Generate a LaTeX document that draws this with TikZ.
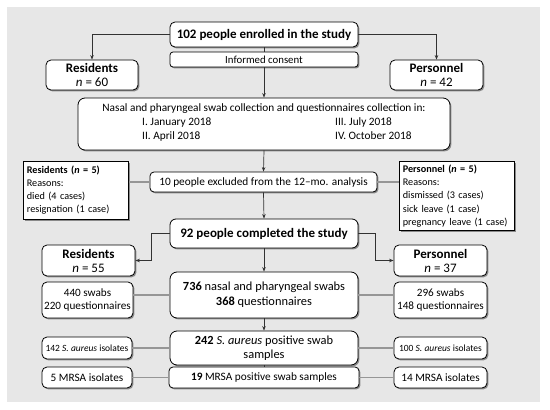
\documentclass[tikz,border=0pt]{standalone}
\usepackage{fontspec}
\setmainfont{Carlito}
\usetikzlibrary{arrows.meta,shadows}
\definecolor{bgc}{RGB}{231,231,231}
\definecolor{sidel}{RGB}{150,150,150}
\definecolor{mainl}{RGB}{50,50,50}
\tikzset{
  box/.style={draw=black, line width=0.8pt, fill=white, rounded corners=5pt, inner sep=1pt, align=center,
    drop shadow={shadow xshift=1.4pt, shadow yshift=-1.4pt, fill=black!55, opacity=0.8}},
  sqbox/.style={draw=black, line width=0.7pt, fill=white, inner xsep=3.5pt, inner ysep=2pt, align=left,
    drop shadow={shadow xshift=1.4pt, shadow yshift=-1.4pt, fill=black!55, opacity=0.8}},
  txt/.style={inner sep=0pt, font=\fontsize{11.3}{12}\selectfont},
  arr/.style={draw=mainl, line width=0.7pt, -{Stealth[length=4.5pt,width=3.5pt]}},
  ln/.style={draw=mainl, line width=0.7pt},
  side/.style={draw=sidel, line width=1.5pt},
}
\begin{document}
\begin{tikzpicture}[x=1pt,y=-1pt]
\useasboundingbox (0,0) rectangle (550,410);
\fill[bgc] (7,7) rectangle (540,402);

% top row
\node[box, minimum width=188pt, minimum height=25pt, font=\fontsize{13}{14}\selectfont\bfseries] (top) at (264,34.5) {102 people enrolled in the study};
\node[box, rounded corners=3pt, minimum width=188pt, minimum height=15pt, font=\fontsize{10.8}{12}\selectfont] (consent) at (264,59.5) {Informed consent};
\node[box, minimum width=92pt, minimum height=30pt, font=\fontsize{13}{14}\selectfont] (res1) at (92,75) {\textbf{Residents}\\\textit{n} = 60};
\node[box, minimum width=93pt, minimum height=30pt, font=\fontsize{13}{14}\selectfont] (per1) at (436.5,75) {\textbf{Personnel}\\\textit{n} = 42};

% nasal box
\node[box, rounded corners=7pt, minimum width=372pt, minimum height=52pt] (nasal) at (264,124) {};
\node[txt] (nasalT) at (264,109) {Nasal and pharyngeal swab collection and questionnaires collection in:};
\node[txt, anchor=west] (d1) at (142,122.5) {I. January 2018};
\node[txt, anchor=west] (d2) at (142,136) {II. April 2018};
\node[txt, anchor=west] (d3) at (335,122.5) {III. July 2018};
\node[txt, anchor=west] (d4) at (335,136) {IV. October 2018};

% exclusion
\node[box, rounded corners=4pt, minimum width=227pt, minimum height=20pt, font=\fontsize{11.3}{12}\selectfont] (excl) at (263.5,182) {10 people excluded from the 12--mo. analysis};
\node[sqbox, anchor=north west, minimum width=105pt, minimum height=58pt, text width=98pt, font=\fontsize{10.2}{13}\selectfont] (resx) at (23,161) {\textbf{Residents (\textit{n} = 5)}\\Reasons:\\died (4 cases)\\resignation (1 case)};
\node[sqbox, anchor=north west, minimum width=115pt, minimum height=69pt, text width=108pt, font=\fontsize{10.2}{13.3}\selectfont] (perx) at (399,161) {\textbf{Personnel (\textit{n} = 5)}\\Reasons:\\dismissed (3 cases)\\sick leave (1 case)\\pregnancy leave (1~case)};

% completed
\node[box, rounded corners=6pt, minimum width=188pt, minimum height=29pt, font=\fontsize{13}{14}\selectfont\bfseries] (comp) at (264,233.5) {92 people completed the study};
\node[box, minimum width=93pt, minimum height=31pt, font=\fontsize{13}{14}\selectfont] (res2) at (88.5,260.5) {\textbf{Residents}\\\textit{n} = 55};
\node[box, minimum width=93pt, minimum height=31pt, font=\fontsize{13}{14}\selectfont] (per2) at (440.5,260.5) {\textbf{Personnel}\\\textit{n} = 37};

% swabs
\node[box, rounded corners=7pt, minimum width=188pt, minimum height=46pt, font=\fontsize{12.4}{15}\selectfont] (swabs) at (264,295) {\textbf{736} nasal and pharyngeal swabs\\\textbf{368} questionnaires};
\node[box, minimum width=91pt, minimum height=36pt, inner sep=0.5pt, font=\fontsize{11.2}{13.5}\selectfont] (rswab) at (87.5,300) {440 swabs\\220 questionnaires};
\node[box, minimum width=93pt, minimum height=36pt, inner sep=0.5pt, font=\fontsize{11.2}{13.5}\selectfont] (pswab) at (440.5,300) {296 swabs\\148 questionnaires};

% aureus
\node[box, rounded corners=7pt, minimum width=188pt, minimum height=34pt, font=\fontsize{12.4}{14.5}\selectfont] (aur) at (264,348) {\textbf{242} \textit{S. aureus} positive swab\\samples};
\node[box, minimum width=90pt, minimum height=22pt, inner sep=0.5pt, font=\fontsize{9.5}{10}\selectfont] (raur) at (87,348) {142 \textit{S. aureus} isolates};
\node[box, minimum width=93pt, minimum height=22pt, inner sep=0.5pt, font=\fontsize{9.5}{10}\selectfont] (paur) at (440.5,348) {100 \textit{S. aureus} isolates};

% mrsa
\node[box, rounded corners=4pt, minimum width=190pt, minimum height=21pt, font=\fontsize{11.3}{12}\selectfont] (mrsa) at (264,377.5) {\textbf{19} MRSA positive swab samples};
\node[box, minimum width=90pt, minimum height=21pt, font=\fontsize{11.3}{12}\selectfont] (rmrsa) at (87,377.5) {5 MRSA isolates};
\node[box, minimum width=93pt, minimum height=21pt, font=\fontsize{11.3}{12}\selectfont] (pmrsa) at (440.5,377.5) {14 MRSA isolates};

% connectors
\draw[arr] (top.west) -| (res1.north);
\draw[arr] (top.east) -| (per1.north);
\draw[ln] (top.south) -- (consent.north);
\draw[arr] (consent.south) -- (nasal.north);
\draw[arr] (nasal.south) -- (excl.north);
\draw[arr] (excl.south) -- (comp.north);
\draw[side] (excl.west) -- (excl.west -| resx.east);
\draw[side] (excl.east) -- (excl.east -| perx.west);
\draw[arr] (comp.west) -- ++(-18,0) |- (res2.east);
\draw[arr] (comp.east) -- ++(17,0) |- (per2.west);
\draw[arr] (comp.south) -- (swabs.north);
\draw[arr] (swabs.south) -- (aur.north);
\draw[ln] (aur.south) -- (mrsa.north);
\draw[side] (swabs.west) -- (swabs.west -| rswab.east);
\draw[side] (swabs.east) -- (swabs.east -| pswab.west);
\draw[side] (aur.west) -- (aur.west -| raur.east);
\draw[side] (aur.east) -- (aur.east -| paur.west);
\draw[side] (mrsa.west) -- (mrsa.west -| rmrsa.east);
\draw[side] (mrsa.east) -- (mrsa.east -| pmrsa.west);
\end{tikzpicture}
\end{document}
